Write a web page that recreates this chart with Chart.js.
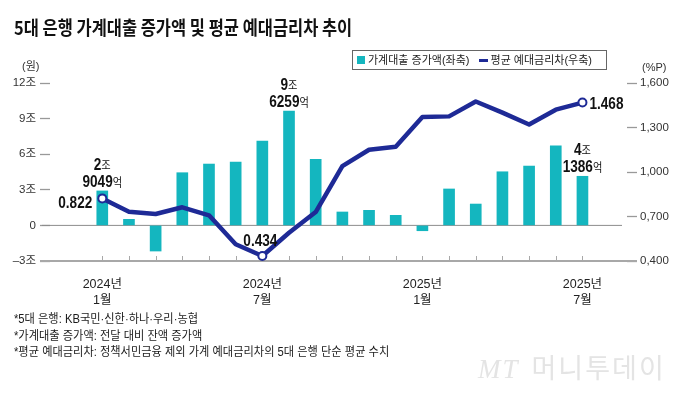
<!DOCTYPE html>
<html>
<head>
<meta charset="utf-8">
<script src="https://cdn.jsdelivr.net/npm/chart.js@4.4.1/dist/chart.umd.min.js"></script>
<style>
body { margin: 0; background: #fff; }
#wrap { position: relative; width: 680px; height: 396px; overflow: hidden; font-family: 'Liberation Sans', 'Noto Sans CJK KR', sans-serif; color: #222; }
#myChart { position: absolute; left: 0; top: 0; }
.title { position: absolute; left: 14px; top: 17px; font-family: 'Noto Sans CJK KR', sans-serif; font-weight: bold; font-size: 19px; line-height: 19px; white-space: nowrap; transform: scaleX(0.865); transform-origin: left top; color: #111; }
.unit { position: absolute; font-size: 11px; line-height: 12px; color: #333; }
.legend { position: absolute; left: 352px; top: 50px; width: 253px; height: 18px; border: 1px solid #666; font-size: 11px; line-height: 18px; white-space: nowrap; color: #222; }
.legend span.sw { display: inline-block; vertical-align: middle; margin: 0 3px 2px 4px; }
.notes { position: absolute; left: 14px; top: 311px; font-size: 12px; line-height: 16.5px; white-space: nowrap; transform: scaleX(0.935); transform-origin: left top; color: #1a1a1a; }
.mark { position: absolute; left: 478px; top: 352px; font-size: 27px; line-height: 34px; color: #e4e4e4; white-space: nowrap; letter-spacing: 2px; }
.mark i { font-family: 'Liberation Serif', serif; margin-right: 12px; }
</style>
</head>
<body>
<div id="wrap">
  <canvas id="myChart" width="680" height="396"></canvas>
  <div class="title">5대 은행 가계대출 증가액 및 평균 예대금리차 추이</div>
  <div class="unit" style="left:22px;top:60px;">(원)</div>
  <div class="unit" style="left:642px;top:61px;">(%P)</div>
  <div class="legend">
    <span class="sw" style="width:8px;height:8px;background:#14b6bf;"></span>가계대출 증가액(좌축)
    <span class="sw" style="width:9px;height:3px;background:#1e2a96;margin-left:6px;"></span>평균 예대금리차(우축)
  </div>
  <div class="notes">*5대 은행: KB국민·신한·하나·우리·농협<br>*가계대출 증가액: 전달 대비 잔액 증가액<br>*평균 예대금리차: 정책서민금융 제외 가계 예대금리차의 5대 은행 단순 평균 수치</div>
  <div class="mark"><i>MT</i>머니투데이</div>
</div>
<script>
// 2024년 1월 ~ 2025년 7월
var months = ["2024-01", "2024-02", "2024-03", "2024-04", "2024-05", "2024-06", "2024-07", "2024-08", "2024-09", "2024-10",
              "2024-11", "2024-12", "2025-01", "2025-02", "2025-03", "2025-04", "2025-05", "2025-06", "2025-07"];
// 가계대출 증가액 (조원)
var loanGrowth = [2.9049, 0.51, -2.16, 4.44, 5.17, 5.34, 7.1, 9.6259, 5.57, 1.13, 1.27, 0.85, -0.45, 3.07, 1.8, 4.52, 5.0, 6.71, 4.1386];
// 평균 예대금리차 (%P)
var rateSpread = [0.822, 0.732, 0.717, 0.762, 0.708, 0.513, 0.434, 0.59, 0.73, 1.04, 1.15, 1.17, 1.37, 1.375, 1.475, 1.40, 1.32, 1.42, 1.468];

var xTickIdx = [0, 6, 12, 18];
var leftTicks = [-3, 0, 3, 6, 9, 12];
var rightTicks = [0.4, 0.7, 1.0, 1.3, 1.6];
var barNoteIdx = [0, 7, 18];
var lineNoteIdx = [0, 6, 18];

var teal = '#14b6bf';
var navy = '#1e2a96';

function monthLabel(m) {
    var p = m.split('-');
    return [p[0] + '년', parseInt(p[1], 10) + '월'];
}

// draw mixed bold digits + small unit text, squeezed horizontally
function richText(ctx, parts, x, y, align) {
    var sx = 0.85, w = 0;
    parts.forEach(function (p) { ctx.font = p.font; p.w = ctx.measureText(p.t).width * sx; w += p.w; });
    var start = align === 'center' ? x - w / 2 : (align === 'right' ? x - w : x);
    parts.forEach(function (p) {
        ctx.save();
        ctx.font = p.font;
        ctx.translate(start, y);
        ctx.scale(sx, 1);
        ctx.fillText(p.t, 0, 0);
        ctx.restore();
        start += p.w;
    });
}

var bigFont = "bold 16px 'Liberation Sans', 'Noto Sans CJK KR', sans-serif";
var smallFont = "12px 'Noto Sans CJK KR', sans-serif";

var overlay = {
    id: 'overlay',
    beforeDatasetsDraw: function (chart) {
        var ctx = chart.ctx, a = chart.chartArea, s = chart.scales;
        var y0 = s.y.getPixelForValue(0);
        ctx.save();
        ctx.strokeStyle = '#8c8c8c';
        ctx.lineWidth = 1;
        ctx.beginPath();
        ctx.moveTo(a.left - 8, y0);
        ctx.lineTo(a.right - 5, y0);
        ctx.stroke();
        ctx.strokeStyle = '#a8a8a8';
        ctx.lineWidth = 2;
        ctx.beginPath();
        ctx.moveTo(a.left - 10, a.bottom);
        ctx.lineTo(a.right + 10, a.bottom);
        ctx.stroke();
        ctx.lineWidth = 1;
        ctx.beginPath();
        months.forEach(function (m, i) {
            var x = Math.round(s.x.getPixelForValue(i)) + 0.5;
            ctx.moveTo(x, a.bottom - 5);
            ctx.lineTo(x, a.bottom);
        });
        ctx.stroke();
        ctx.restore();
    },
    afterDatasetsDraw: function (chart) {
        var ctx = chart.ctx, s = chart.scales;
        ctx.save();
        ctx.fillStyle = '#111';
        ctx.textBaseline = 'alphabetic';
        barNoteIdx.forEach(function (i) {
            var v = loanGrowth[i];
            var jo = Math.floor(v), eok = Math.round((v - jo) * 10000);
            var x = s.x.getPixelForValue(i), top = s.y.getPixelForValue(v);
            richText(ctx, [{ t: String(jo), font: bigFont }, { t: '조', font: smallFont }], x, top - 21, 'center');
            richText(ctx, [{ t: String(eok), font: bigFont }, { t: '억', font: smallFont }], x, top - 4, 'center');
        });
        lineNoteIdx.forEach(function (i, k) {
            var px = s.x.getPixelForValue(i), py = s.y1.getPixelForValue(rateSpread[i]);
            var t = [{ t: rateSpread[i].toFixed(3), font: bigFont }];
            if (k === 0) richText(ctx, t, px - 10, py + 10, 'right');
            else if (k === 1) richText(ctx, t, px - 2, py - 10, 'center');
            else richText(ctx, t, px + 7, py + 6, 'left');
        });
        ctx.restore();
    }
};

var ctx = document.getElementById("myChart").getContext('2d');
var myChart = new Chart(ctx, {
    data: {
        datasets: [{
            type: 'line',
            label: '평균 예대금리차(우축)',
            data: months.map(function (m, i) { return { x: i, y: rateSpread[i] }; }),
            yAxisID: 'y1',
            borderColor: navy,
            borderWidth: 4.5,
            borderJoinStyle: 'round',
            tension: 0,
            pointRadius: function (c) { return lineNoteIdx.indexOf(c.dataIndex) >= 0 ? 4 : 0; },
            pointBackgroundColor: '#fff',
            pointBorderColor: navy,
            pointBorderWidth: 2,
            order: 1
        }, {
            type: 'bar',
            label: '가계대출 증가액(좌축)',
            data: months.map(function (m, i) { return { x: i, y: loanGrowth[i] }; }),
            yAxisID: 'y',
            backgroundColor: teal,
            barThickness: 11,
            order: 2
        }]
    },
    options: {
        responsive: false,
        animation: false,
        layout: { padding: { top: 83, left: 0, right: 0, bottom: 0 } },
        plugins: { legend: { display: false }, tooltip: { enabled: false } },
        scales: {
            x: {
                type: 'linear',
                offset: false,
                min: -1.96,
                max: 19.67,
                grid: { display: false },
                border: { display: false },
                afterBuildTicks: function (scale) { scale.ticks = xTickIdx.map(function (v) { return { value: v }; }); },
                afterFit: function (scale) { scale.height = 135; },
                ticks: {
                    autoSkip: false,
                    maxRotation: 0,
                    padding: 7,
                    color: '#222',
                    font: { size: 12.5, family: "'Liberation Sans', 'Noto Sans CJK KR', sans-serif", lineHeight: 1.3 },
                    callback: function (v) { return monthLabel(months[v]); }
                }
            },
            y: {
                position: 'left',
                min: -3,
                max: 12,
                afterBuildTicks: function (scale) { scale.ticks = leftTicks.map(function (v) { return { value: v }; }); },
                afterFit: function (scale) { scale.width = 50; },
                grid: { drawOnChartArea: false, drawTicks: true, tickLength: 10, tickColor: '#999', tickWidth: 1.3 },
                border: { display: false },
                ticks: {
                    padding: 4,
                    color: '#333',
                    font: { size: 11.5, family: "'Liberation Sans', 'Noto Sans CJK KR', sans-serif" },
                    callback: function (v) { return v === 0 ? '0' : (v < 0 ? '–' : '') + Math.abs(v) + '조'; }
                }
            },
            y1: {
                position: 'right',
                min: 0.4,
                max: 1.6,
                afterBuildTicks: function (scale) { scale.ticks = rightTicks.map(function (v) { return { value: v }; }); },
                afterFit: function (scale) { scale.width = 53; },
                grid: { drawOnChartArea: false, drawTicks: true, tickLength: 10, tickColor: '#999', tickWidth: 1.3 },
                border: { display: false },
                ticks: {
                    padding: 3,
                    color: '#333',
                    font: { size: 11.5, family: "'Liberation Sans', 'Noto Sans CJK KR', sans-serif" },
                    callback: function (v) { return v.toFixed(3).replace('.', ','); }
                }
            }
        }
    },
    plugins: [overlay]
});
</script>
</body>
</html>
